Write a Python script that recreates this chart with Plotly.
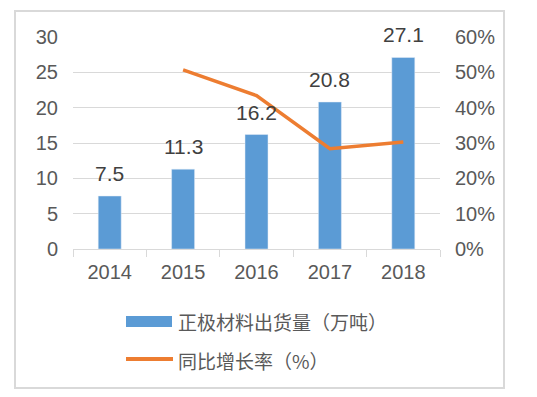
import plotly.graph_objects as go

years = ["2014", "2015", "2016", "2017", "2018"]
shipments = [7.5, 11.3, 16.2, 20.8, 27.1]
growth = [None, 0.507, 0.434, 0.284, 0.303]
bar_name = "正极材料出货量（万吨）"
line_name = "同比增长率（%）"

W, H = 537, 397
L, R, T, B = 73, 97, 37, 148
pw, ph = W - L - R, H - T - B

def px(x):
    return (x - L) / pw

def py(y):
    return (H - B - y) / ph

BLUE = "#5B9BD5"
ORANGE = "#ED7D31"
GRID = "#D9D9D9"
TICK = "#595959"

fig = go.Figure()
fig.add_trace(go.Bar(x=years, y=shipments, marker_color=BLUE, name=bar_name,
                     showlegend=False))
fig.add_trace(go.Scatter(x=years, y=growth, yaxis="y2", mode="lines",
                         line=dict(color=ORANGE, width=3.5), name=line_name,
                         showlegend=False))

annotations = []
for i, v in enumerate(shipments):
    annotations.append(dict(x=i, y=v, xref="x", yref="y", text=f"{v:.1f}",
                            showarrow=False, yanchor="bottom", yshift=9,
                            font=dict(family="Liberation Sans, Arial", size=21, color="#404040")))

# legend (manual)
legend_font = dict(family="Noto Sans CJK SC", size=19, color="#595959")
annotations.append(dict(x=px(176), y=py(321), xref="paper", yref="paper", text=bar_name,
                        showarrow=False, xanchor="left", yanchor="middle", font=legend_font))
annotations.append(dict(x=px(176), y=py(360), xref="paper", yref="paper", text=line_name,
                        showarrow=False, xanchor="left", yanchor="middle", font=legend_font))

shapes = [
    dict(type="rect", xref="paper", yref="paper", x0=px(15), x1=px(504), y0=py(388), y1=py(11),
         line=dict(color=GRID, width=2), fillcolor="rgba(0,0,0,0)", layer="below"),
    dict(type="rect", xref="paper", yref="paper", x0=px(126), x1=px(172), y0=py(327), y1=py(316),
         line=dict(width=0), fillcolor=BLUE),
    dict(type="line", xref="paper", yref="paper", x0=px(126), x1=px(173), y0=py(359), y1=py(359),
         line=dict(color=ORANGE, width=4)),
]

tickfont = dict(family="Liberation Sans, Arial", size=20, color=TICK)

fig.update_layout(
    width=W, height=H,
    margin=dict(l=L, r=R, t=T, b=B, pad=0),
    paper_bgcolor="white", plot_bgcolor="white",
    bargap=0.687,
    showlegend=False,
    xaxis=dict(type="category", range=[-0.5, 4.5], showline=True, linecolor=GRID, linewidth=1,
               ticks="outside", tickson="boundaries", ticklen=7, tickcolor=GRID,
               tickfont=tickfont, showgrid=False, tickangle=0, ticklabelstandoff=5),
    yaxis=dict(range=[0, 30], dtick=5, showgrid=True, gridcolor=GRID, gridwidth=1,
               zeroline=False, tickfont=tickfont, ticklabelstandoff=14, showline=False),
    yaxis2=dict(range=[0, 0.6], dtick=0.1, tickformat=".0%", overlaying="y", side="right",
                showgrid=False, zeroline=False, tickfont=tickfont, ticklabelstandoff=14),
    annotations=annotations,
    shapes=shapes,
)

fig.write_html("out.html")
